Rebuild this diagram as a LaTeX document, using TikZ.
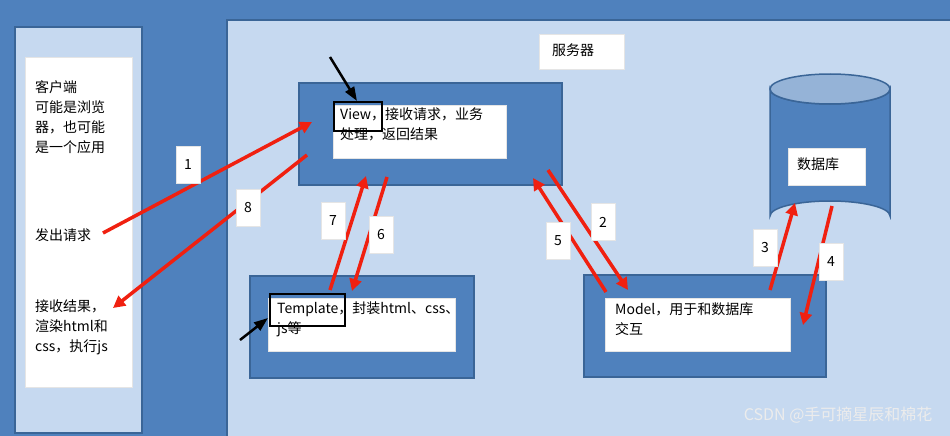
\documentclass[tikz,border=0pt]{standalone}
\usepackage{fontspec}
\setmainfont{Noto Sans CJK SC}
\usetikzlibrary{arrows.meta}
\definecolor{dblue}{HTML}{4F81BD}
\definecolor{lblue}{HTML}{C6D9F0}
\definecolor{bord}{HTML}{3A6597}
\definecolor{rarr}{HTML}{F02010}
\definecolor{dbtop}{HTML}{95B3D7}
\tikzset{
 panel/.style={fill=lblue,draw=bord,line width=1.5pt},
 outer/.style={fill=dblue,draw=bord,line width=1.5pt},
 wbox/.style={fill=white,draw=black!10},
 lbl/.style={fill=white,draw=black!10,font=\fontsize{14}{16}\selectfont,minimum width=24pt,minimum height=37pt,inner sep=0pt},
 txt/.style={font=\fontsize{14}{20}\selectfont,align=left,anchor=north west,inner sep=0pt},
 rarrow/.style={draw=rarr,line width=3.5pt,-{Triangle[length=12pt,width=12pt]}},
 karrow/.style={draw=black,line width=2.5pt,-{Triangle[length=14pt,width=10pt]}},
 hl/.style={draw=black,line width=2.5pt}
}
\begin{document}
\begin{tikzpicture}[x=1pt,y=-1pt]
\fill[dblue] (0,0) rectangle (950,436);
\useasboundingbox (0,0) rectangle (950,436);
\draw[panel] (15,27) rectangle (142,433);
\draw[panel] (227,20) rectangle (952,438);
\draw[wbox] (25,57) rectangle (132,387);
\node[txt] (c1) at (35,80) {客户端\\可能是浏览\\器，也可能\\是一个应用};
\node[txt,anchor=west] (req) at (35,235) {发出请求};
\node[txt] (res) at (35,300) {接收结果，\\渲染html和\\css，执行js};
\node[wbox,minimum width=85pt,minimum height=35pt,inner sep=0pt] (srv) at (582,52) {};
\node[txt,anchor=west] at (552,50) {服务器};
% View
\draw[outer] (299,83) rectangle (562,185);
\draw[wbox] (333,105) rectangle (506,158);
\node[txt] (vt) at (340,108) {View，接收请求，业务\\处理，返回结果};
\draw[hl] (334,102) rectangle (382,131);
\coordinate (vk) at (330,57);
\draw[karrow] (vk) -- (357,101);
% Template
\draw[outer] (250,276) rectangle (474,378);
\draw[wbox] (268,298) rectangle (455,351);
\node[txt] (tt) at (277,302) {Template，封装html、css、\\js等};
\draw[hl] (270,294) rectangle (345,326);
\coordinate (tk) at (240,340);
\draw[karrow] (tk) -- (268,318);
% Model
\draw[outer] (584,275) rectangle (826,377);
\draw[wbox] (605,298) rectangle (790,351);
\node[txt] (mt) at (615,303) {Model，用于和数据库\\交互};
% DB
\draw[fill=dblue,draw=bord,line width=1.5pt] (770,89) -- (770,216) arc[start angle=180,end angle=360,x radius=60,y radius=15] -- (890,89) arc[start angle=0,end angle=-180,x radius=60,y radius=-15] -- cycle;
\draw[fill=dbtop,draw=bord,line width=1.5pt] (830,89) ellipse[x radius=60,y radius=15];
\draw[wbox] (788,148) rectangle (865,185);
\node[txt,anchor=west] (dbt) at (797,164) {数据库};
% arrows
\coordinate (a1s) at (103,233); \coordinate (a1e) at (312,122);
\draw[rarrow] (a1s) -- (a1e);
\coordinate (a8s) at (307,155); \coordinate (a8e) at (113,308);
\draw[rarrow] (a8s) -- (a8e);
\coordinate (a7s) at (330,290); \coordinate (a7e) at (366,176);
\draw[rarrow] (a7s) -- (a7e);
\coordinate (a6s) at (387,177); \coordinate (a6e) at (352,291);
\draw[rarrow] (a6s) -- (a6e);
\coordinate (a2s) at (548,170); \coordinate (a2e) at (628,290);
\draw[rarrow] (a2s) -- (a2e);
\coordinate (a5s) at (606,292); \coordinate (a5e) at (533,178);
\draw[rarrow] (a5s) -- (a5e);
\coordinate (a3s) at (770,290); \coordinate (a3e) at (795,203);
\draw[rarrow] (a3s) -- (a3e);
\coordinate (a4s) at (832,206); \coordinate (a4e) at (803,325);
\draw[rarrow] (a4s) -- (a4e);
\node[lbl] (l1) at (188,165) {1};
\node[lbl] (l8) at (248,208) {8};
\node[lbl] (l7) at (333,221) {7};
\node[lbl] (l6) at (381,235) {6};
\node[lbl] (l2) at (603,222) {2};
\node[lbl] (l5) at (558,241) {5};
\node[lbl] (l3) at (765,248) {3};
\node[lbl] (l4) at (831,262) {4};
\node[font=\fontsize{16}{18}\selectfont,text=white!85!gray,anchor=east] (wm) at (936,415) {CSDN @手可摘星辰和棉花};
\end{tikzpicture}
\end{document}
